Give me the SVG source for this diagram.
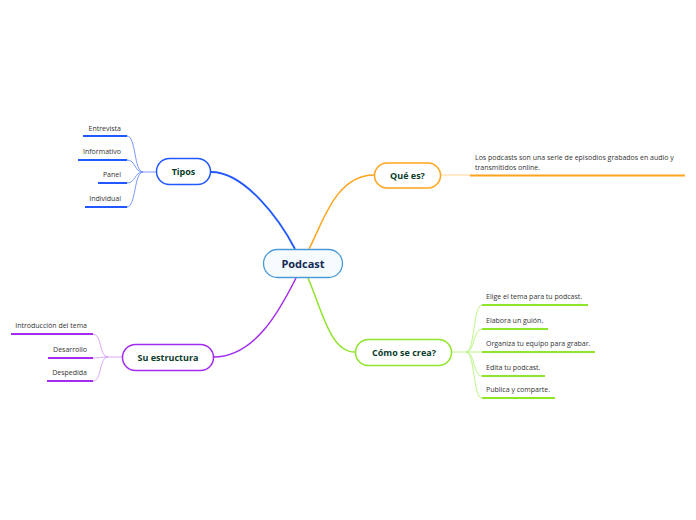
<svg xmlns="http://www.w3.org/2000/svg" width="696" height="520" viewBox="0 0 696 520">
<style>
.t{font-family:"Open Sans","Noto Sans","Liberation Sans",sans-serif;font-size:7px;fill:#333333}
.n{font-family:"Open Sans","Noto Sans","Liberation Sans",sans-serif;font-size:9px;font-weight:bold;fill:#0b3d2b;text-anchor:middle}
</style>
<rect width="696" height="520" fill="#ffffff"/>
<g id="connectors" fill="none">
  <path d="M295,249 C280,220 245,172 211,172" stroke="#2158ff" stroke-width="1.8"/>
  <path d="M309,249 C322,225 335,175 374,175" stroke="#ffa41c" stroke-width="1.5"/>
  <path d="M308,278 C322,310 330,352 355,352" stroke="#8ee52a" stroke-width="1.5"/>
  <path d="M296,278 C280,310 255,357 213,357" stroke="#a22cf0" stroke-width="1.5"/>
  <g stroke="#6d8dff" stroke-width="0.9">
    <path d="M156,172 H143"/>
    <path d="M143,172 C134,172 136,136 127,136"/>
    <path d="M143,172 C134,172 136,160 127,160"/>
    <path d="M143,172 C134,172 136,183 127,183"/>
    <path d="M143,172 C134,172 136,207 127,207"/>
  </g>
  <path d="M441,175 H470" stroke="#ffe2b5" stroke-width="1.5"/>
  <g stroke="#b4f27a" stroke-width="0.9">
    <path d="M452,352 H466"/>
    <path d="M466,352 C475,352 473,305 482,305"/>
    <path d="M466,352 C475,352 473,329 482,329"/>
    <path d="M466,352 H482"/>
    <path d="M466,352 C475,352 473,376 482,376"/>
    <path d="M466,352 C475,352 473,398 482,398"/>
  </g>
  <g stroke="#d39cf7" stroke-width="0.9">
    <path d="M122,357 H108"/>
    <path d="M108,357 C99,357 102,334 93,334"/>
    <path d="M108,357 C100,357 101,358 93,358"/>
    <path d="M108,357 C99,357 102,381 93,381"/>
  </g>
</g>
<g id="central">
  <rect x="263.5" y="249.5" width="79" height="28" rx="14" fill="#f6fbff" stroke="#4b9ad8" stroke-width="1.3"/>
  <text x="303" y="268" font-family="Open Sans, Noto Sans, Liberation Sans, sans-serif" font-size="11" font-weight="bold" fill="#122a55" text-anchor="middle">Podcast</text>
</g>
<g id="tipos">
  <rect x="156.5" y="158.5" width="54" height="26" rx="13" fill="#ffffff" stroke="#2158ff" stroke-width="1.5"/>
  <text class="n" x="183.5" y="175">Tipos</text>
</g>
<g id="tipos-entrevista">
  <line x1="83" y1="136" x2="127" y2="136" stroke="#2158ff" stroke-width="2"/>
  <text class="t" x="121" y="131" text-anchor="end">Entrevista</text>
</g>
<g id="tipos-informativo">
  <line x1="78" y1="160" x2="127" y2="160" stroke="#2158ff" stroke-width="2"/>
  <text class="t" x="121" y="154" text-anchor="end">Informativo</text>
</g>
<g id="tipos-panel">
  <line x1="98" y1="183" x2="127" y2="183" stroke="#2158ff" stroke-width="2"/>
  <text class="t" x="121" y="177" text-anchor="end">Panel</text>
</g>
<g id="tipos-individual">
  <line x1="85" y1="207" x2="127" y2="207" stroke="#2158ff" stroke-width="2"/>
  <text class="t" x="121" y="201" text-anchor="end">Individual</text>
</g>
<g id="quees">
  <rect x="374.5" y="163" width="66" height="25" rx="12.5" fill="#ffffff" stroke="#ffa41c" stroke-width="1.5"/>
  <text class="n" x="407.5" y="178.5">Qué es?</text>
</g>
<g id="quees-def">
  <line x1="470" y1="175.5" x2="685" y2="175.5" stroke="#ffa41c" stroke-width="2"/>
  <text class="t" x="475" y="160">Los podcasts son una serie de episodios grabados en audio y</text>
  <text class="t" x="475" y="170">transmitidos online.</text>
</g>
<g id="comosecrea">
  <rect x="355.5" y="339.5" width="96" height="26" rx="13" fill="#ffffff" stroke="#8ee52a" stroke-width="1.5"/>
  <text class="n" x="404" y="355.5">Cómo se crea?</text>
</g>
<g id="paso1">
  <line x1="482" y1="305" x2="588" y2="305" stroke="#8ee52a" stroke-width="2"/>
  <text class="t" x="486" y="299">Elige el tema para tu podcast.</text>
</g>
<g id="paso2">
  <line x1="482" y1="329" x2="548" y2="329" stroke="#8ee52a" stroke-width="2"/>
  <text class="t" x="486" y="323">Elabora un guión.</text>
</g>
<g id="paso3">
  <line x1="482" y1="352" x2="595" y2="352" stroke="#8ee52a" stroke-width="2"/>
  <text class="t" x="486" y="346">Organiza tu equipo para grabar.</text>
</g>
<g id="paso4">
  <line x1="482" y1="376" x2="545" y2="376" stroke="#8ee52a" stroke-width="2"/>
  <text class="t" x="486" y="370">Edita tu podcast.</text>
</g>
<g id="paso5">
  <line x1="482" y1="398" x2="555" y2="398" stroke="#8ee52a" stroke-width="2"/>
  <text class="t" x="486" y="392">Publica y comparte.</text>
</g>
<g id="suestructura">
  <rect x="122.5" y="344.5" width="91" height="26" rx="13" fill="#ffffff" stroke="#a22cf0" stroke-width="1.5"/>
  <text class="n" x="168" y="360.5">Su estructura</text>
</g>
<g id="estr-intro">
  <line x1="11" y1="334" x2="93" y2="334" stroke="#a22cf0" stroke-width="2"/>
  <text class="t" x="87" y="328" text-anchor="end">Introducción del tema</text>
</g>
<g id="estr-desarrollo">
  <line x1="48" y1="358" x2="93" y2="358" stroke="#a22cf0" stroke-width="2"/>
  <text class="t" x="87" y="352" text-anchor="end">Desarrollo</text>
</g>
<g id="estr-despedida">
  <line x1="47" y1="381" x2="93" y2="381" stroke="#a22cf0" stroke-width="2"/>
  <text class="t" x="87" y="375" text-anchor="end">Despedida</text>
</g>
</svg>
